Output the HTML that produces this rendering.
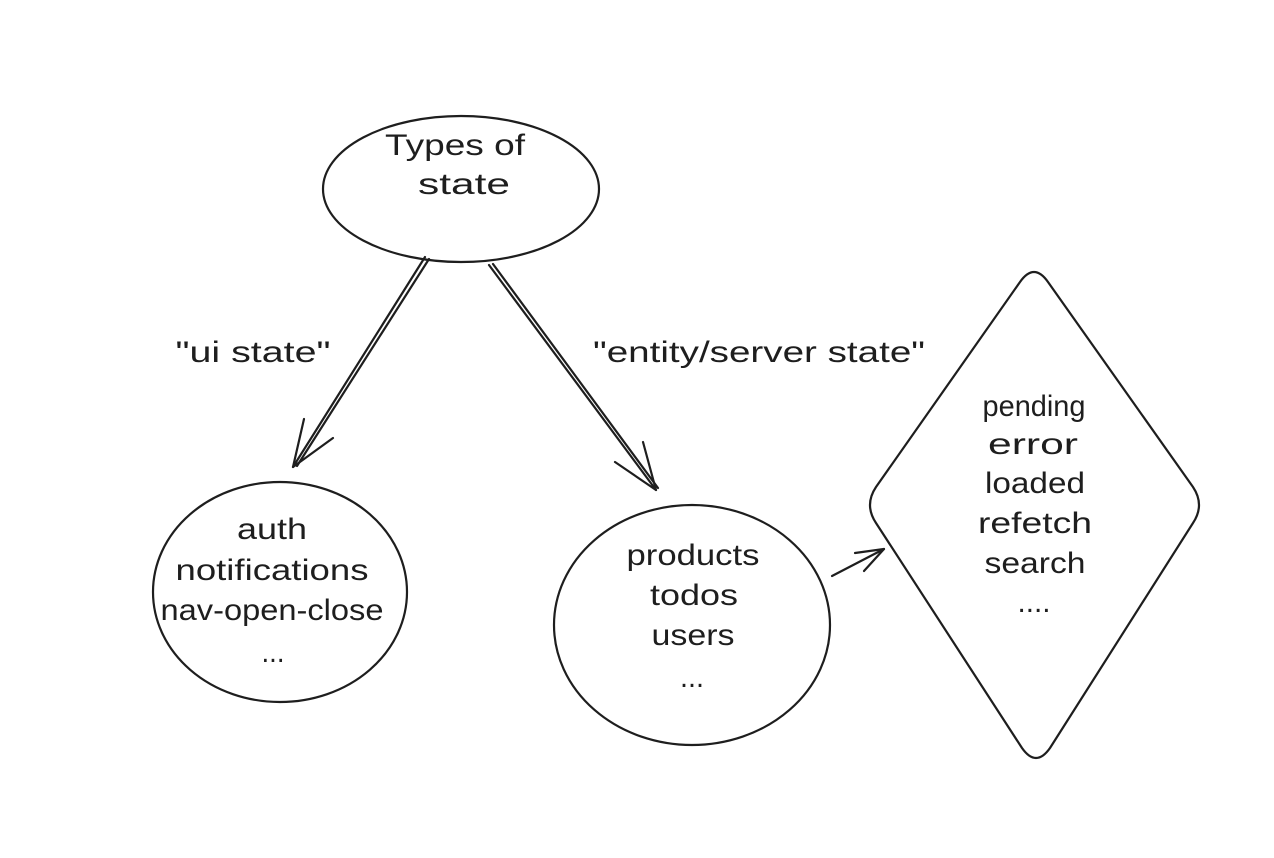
<!DOCTYPE html>
<html><head><meta charset="utf-8"><style>
html,body{margin:0;padding:0;background:#fff;}
svg{display:block;}
text{font-family:"Liberation Sans",sans-serif;font-size:30px;fill:#1e1e1e;text-anchor:middle;dominant-baseline:middle;}
</style></head><body>
<svg width="1274" height="858" viewBox="0 0 1274 858" xmlns="http://www.w3.org/2000/svg">
<rect width="1274" height="858" fill="#fff"/>
<g fill="none" stroke="#1e1e1e" stroke-width="2.2" stroke-linecap="round" stroke-linejoin="round">
<ellipse cx="461" cy="189" rx="138" ry="73"/>
<ellipse cx="280" cy="592" rx="127" ry="110"/>
<ellipse cx="692" cy="625" rx="138" ry="120"/>
<path d="M1020 282 Q1034 262 1048 282 L1193 487 Q1205 505 1193 523 L1050 748 Q1036 768 1022 748 L876 523 Q864 505 876 487 Z"/>
<path d="M425 257 L293 467"/><path d="M429 259 L297 466"/>
<path d="M304 419 L293 467 L333 438"/>
<path d="M489 265 L656 490"/><path d="M493 264 L658 488"/>
<path d="M643 442 L656 490 L615 462"/>
<path d="M832 576 L884 549"/>
<path d="M855 553 L884 549 L864 571"/>
</g>
<g>
<text x="455" y="147" textLength="140" lengthAdjust="spacingAndGlyphs">Types of</text>
<text x="464" y="186" textLength="92" lengthAdjust="spacingAndGlyphs">state</text>
<text x="253" y="354" textLength="155" lengthAdjust="spacingAndGlyphs">"ui state"</text>
<text x="759" y="354" textLength="332" lengthAdjust="spacingAndGlyphs">"entity/server state"</text>
<text x="272" y="531" textLength="70" lengthAdjust="spacingAndGlyphs">auth</text>
<text x="272" y="572" textLength="193" lengthAdjust="spacingAndGlyphs">notifications</text>
<text x="272" y="612" textLength="223" lengthAdjust="spacingAndGlyphs">nav-open-close</text>
<text x="273" y="654" textLength="23" lengthAdjust="spacingAndGlyphs">...</text>
<text x="693" y="557" textLength="133" lengthAdjust="spacingAndGlyphs">products</text>
<text x="694" y="597" textLength="88" lengthAdjust="spacingAndGlyphs">todos</text>
<text x="693" y="637" textLength="83" lengthAdjust="spacingAndGlyphs">users</text>
<text x="692" y="679" textLength="24" lengthAdjust="spacingAndGlyphs">...</text>
<text x="1034" y="408" textLength="103" lengthAdjust="spacingAndGlyphs">pending</text>
<text x="1033" y="446" textLength="90" lengthAdjust="spacingAndGlyphs">error</text>
<text x="1035" y="485" textLength="100" lengthAdjust="spacingAndGlyphs">loaded</text>
<text x="1035" y="525" textLength="114" lengthAdjust="spacingAndGlyphs">refetch</text>
<text x="1035" y="565" textLength="101" lengthAdjust="spacingAndGlyphs">search</text>
<text x="1034" y="604" textLength="33" lengthAdjust="spacingAndGlyphs">....</text>
</g>
</svg>
</body></html>
